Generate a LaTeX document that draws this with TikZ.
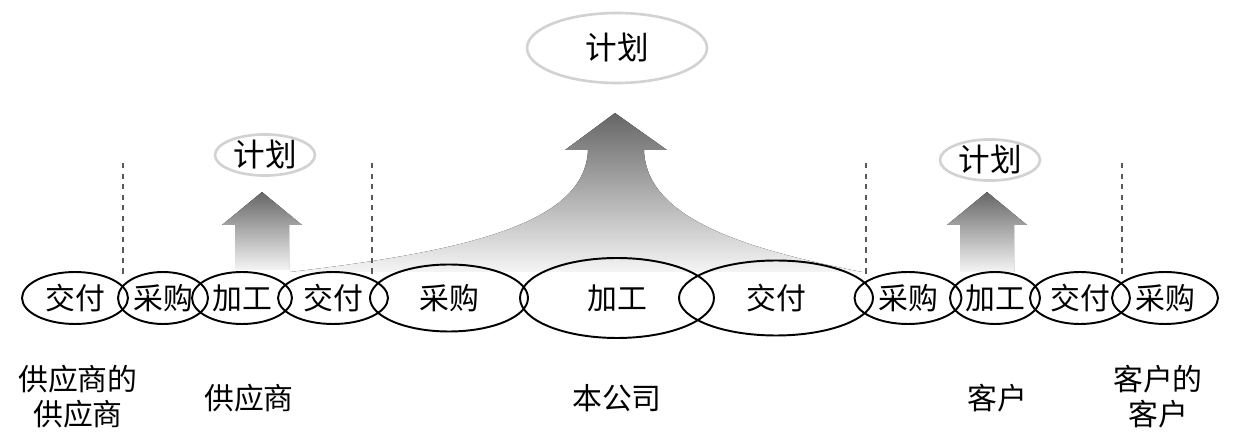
\documentclass[tikz,border=0pt]{standalone}
\usepackage{fontspec}
\setmainfont{Noto Sans CJK SC}
\usetikzlibrary{shapes.geometric}
\begin{document}
\begin{tikzpicture}[x=0.02cm,y=-0.02cm,
  el/.style={draw,ellipse,line width=1.1pt,inner sep=0pt,font=\fontsize{17}{17}\selectfont},
  plan/.style={ellipse,draw=gray!35,line width=1.5pt,fill=white,inner sep=0pt,font=\fontsize{18}{18}\selectfont},
  lab/.style={font=\fontsize{17}{20}\selectfont,align=center},
  dl/.style={dashed,gray!70!black,line width=0.9pt},
  arr/.style={top color=gray!80!black,bottom color=gray!8,draw=none}]
\useasboundingbox (0,0) rectangle (1245,442);
% arrows
\fill[arr] (235,270) -- (235,225) -- (222,225) -- (262,192) -- (302,225) -- (289,225) -- (289,270) -- cycle;
\fill[arr] (290,272) .. controls (480,250) and (585,220) .. (588,150) -- (565,150) -- (615,113) -- (667,150) -- (644,150) .. controls (646,220) and (750,250) .. (862,272) -- cycle;
\fill[arr] (960,272) -- (960,225) -- (947,225) -- (987,192) -- (1027,225) -- (1014,225) -- (1014,272) -- cycle;
% plans
\node[plan,minimum width=180\pgflinewidth*0+3.6cm,minimum height=1.4cm] (p1) at (617,48) {计划};
\node[plan,minimum width=2cm,minimum height=0.8cm] (p0) at (265,155) {计划};
\node[plan,minimum width=2cm,minimum height=0.8cm] (p2) at (990,160) {计划};
% dashed
\coordinate (d1a) at (123,163); \coordinate (d1b) at (123,276);
\coordinate (d2a) at (372,163); \coordinate (d2b) at (372,276);
\coordinate (d3a) at (866,163); \coordinate (d3b) at (866,276);
\coordinate (d4a) at (1122,163); \coordinate (d4b) at (1122,276);
\draw[dl] (d1a)--(d1b); \draw[dl] (d2a)--(d2b); \draw[dl] (d3a)--(d3b); \draw[dl] (d4a)--(d4b);
% ellipses
\node[el,minimum width=2.12cm,minimum height=1.04cm] (a1) at (75,298) {交付};
\node[el,minimum width=1.8cm,minimum height=1.04cm] (a2) at (163,298) {采购};
\node[el,minimum width=2.0cm,minimum height=1.04cm] (a3) at (242,298) {加工};
\node[el,minimum width=2.2cm,minimum height=1.04cm] (a4) at (333,298) {交付};
\node[el,minimum width=3.16cm,minimum height=1.34cm] (b1) at (449,298) {采购};
\node[el,minimum width=3.88cm,minimum height=1.6cm] (b2) at (617,298) {加工};
\node[el,minimum width=3.88cm,minimum height=1.5cm] (b3) at (776,298) {交付};
\node[el,minimum width=2.14cm,minimum height=1.04cm] (c1) at (908,298) {采购};
\node[el,minimum width=1.8cm,minimum height=1.04cm] (c2) at (995,298) {加工};
\node[el,minimum width=2.0cm,minimum height=1.04cm] (c3) at (1080,298) {交付};
\node[el,minimum width=2.12cm,minimum height=1.04cm] (c4) at (1165,298) {采购};
% labels
\node[lab] (l1) at (78,397) {供应商的\\供应商};
\node[lab] (l2) at (249,398) {供应商};
\node[lab] (l3) at (617,398) {本公司};
\node[lab] (l4) at (997,398) {客户};
\node[lab] (l5) at (1158,397) {客户的\\客户};
\end{tikzpicture}
\end{document}
